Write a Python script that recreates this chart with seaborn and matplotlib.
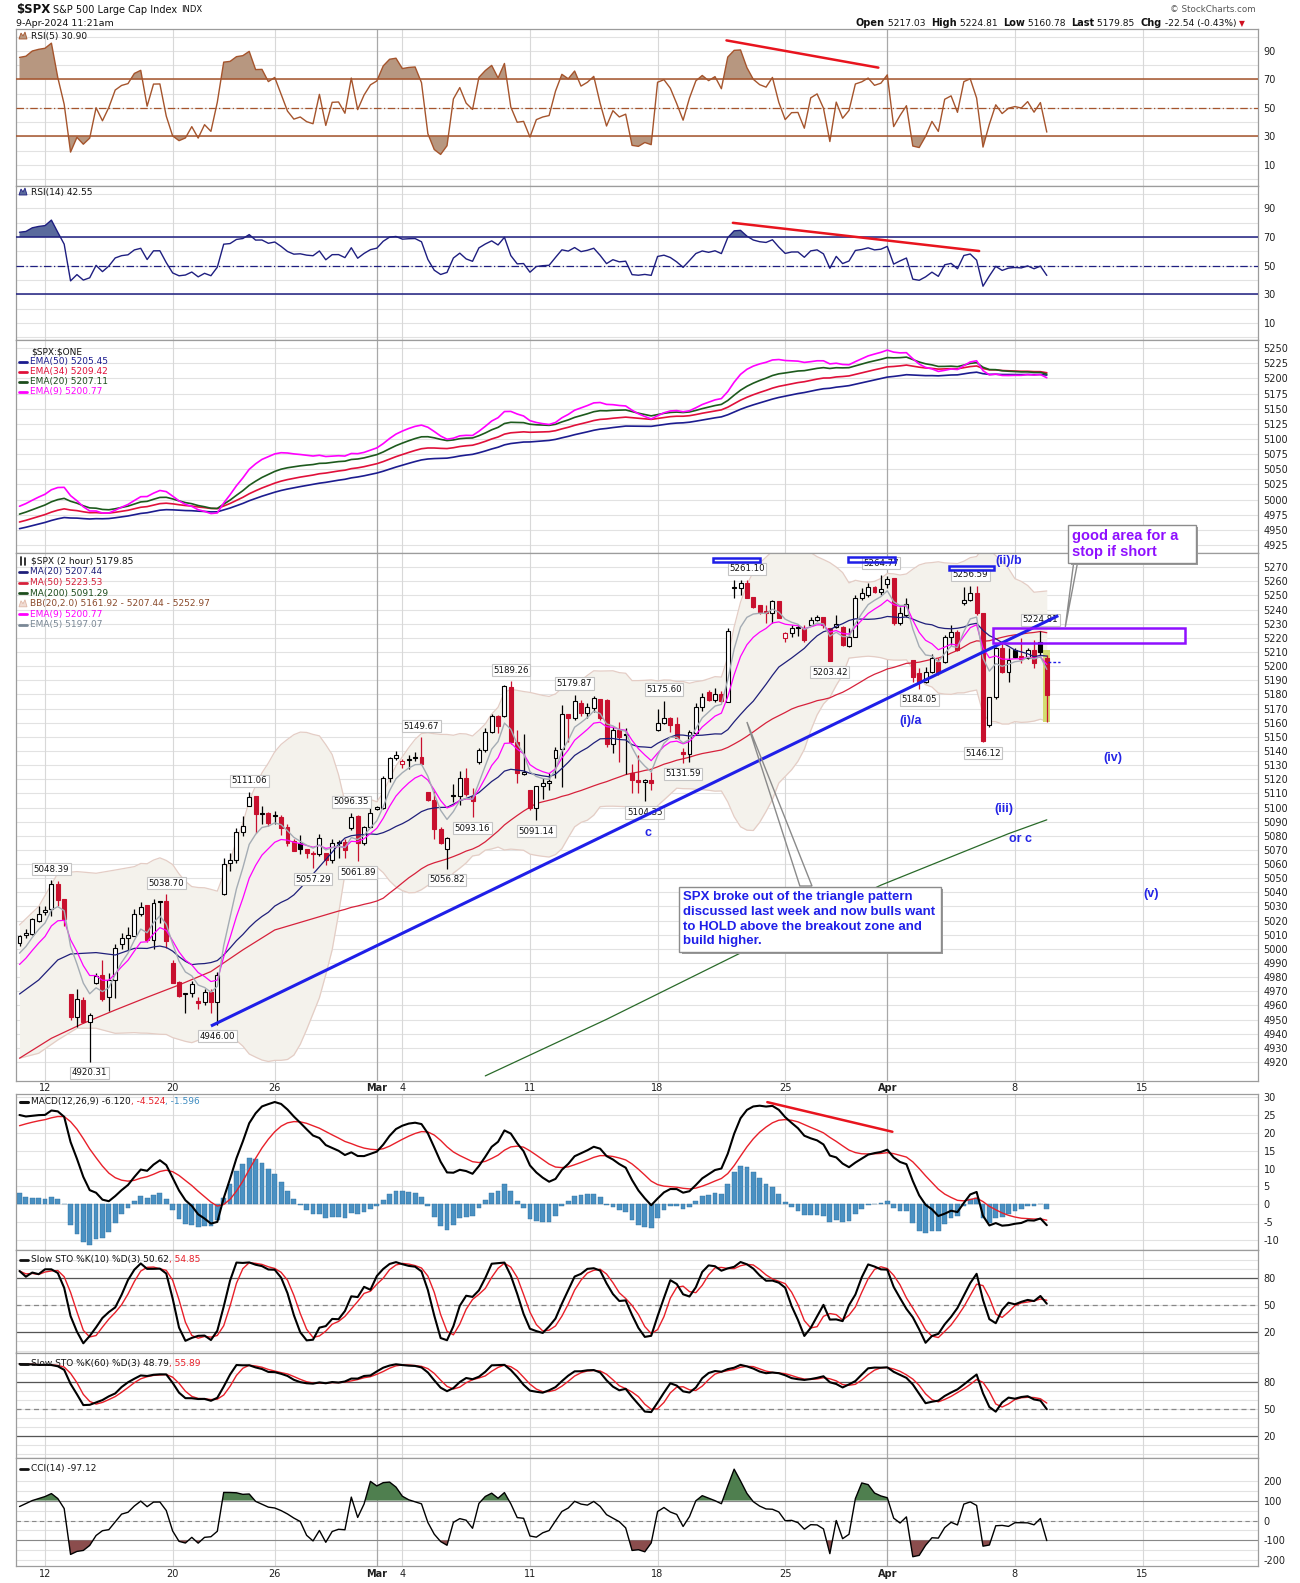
import matplotlib
matplotlib.use("Agg")
import matplotlib.pyplot as plt
from matplotlib.lines import Line2D
from matplotlib.patches import Polygon, Rectangle
import numpy as np
import pandas as pd
import seaborn as sns

W, H = 1300, 1583
PLOT_LEFT, PLOT_RIGHT = 16, 1258

# $SPX 2-hour bars, 9-Feb-2024 .. 9-Apr-2024 11:21am
OPEN = [
    5004, 5010, 5010.5, 5020, 5026, 5028, 5046, 5035,
    4968, 4951.6, 4963.9, 4948.6, 4976, 4981.5, 4965.8, 4978,
    5003.5, 5007.5, 5009, 5024.7, 5031, 5006.3, 5033.2, 5034,
    4989.7, 4976.9, 4968, 4968.6, 4963, 4962.7, 4969.8, 4962.7,
    5038.9, 5060.5, 5063, 5082.5, 5101, 5108, 5096.3, 5096,
    5094.2, 5093.5, 5086, 5076, 5074.6, 5070.5, 5068, 5067,
    5067.6, 5062.8, 5075.2, 5075.8, 5085.2, 5094, 5074.6, 5086.4,
    5099, 5100, 5121, 5134.7, 5130.6, 5133.5, 5136, 5135.4,
    5110.7, 5105.3, 5085, 5071, 5108.8, 5108, 5120.6, 5108,
    5132.4, 5140.6, 5153.6, 5164.7, 5164.7, 5185.4, 5146.5, 5123.5,
    5112.3, 5099.4, 5115.2, 5117.3, 5134.7, 5141.3, 5165.9, 5163,
    5173.6, 5166.6, 5170.6, 5176.7, 5176, 5144.6, 5154.8, 5152,
    5124.1, 5119.4, 5117.8, 5119.4, 5154.8, 5159.5, 5163, 5158.8,
    5139.5, 5137.6, 5152.4, 5171.3, 5181.9, 5176, 5180, 5174.8,
    5254.9, 5255, 5258.5, 5249, 5243.2, 5238.9, 5237.3, 5246,
    5220.1, 5223.1, 5227, 5226.7, 5229, 5232.6, 5235, 5226.7,
    5228, 5228, 5214.4, 5220.8, 5247.9, 5250.2, 5256.1, 5252.6,
    5258, 5262, 5230.2, 5236.1, 5204.3, 5194.8, 5189, 5196,
    5203.1, 5203.1, 5220.8, 5224.3, 5244.3, 5246.7, 5251.4, 5237.3,
    5158.3, 5178.3, 5212.5, 5196, 5211.3, 5207, 5205.5, 5211.3,
    5217.03, 5205.5,
]
HIGH = [
    5010, 5014, 5022, 5030, 5030, 5048.39, 5048, 5035,
    4968, 4971.5, 4965.8, 4954.5, 4983, 4992, 4983.3, 5003.5,
    5011, 5015.8, 5028, 5033.5, 5031, 5035, 5034, 5038.70,
    4992.5, 4977, 4969, 4977.5, 4966, 4972, 4972, 4984,
    5064, 5067.6, 5085.3, 5094, 5111.06, 5108, 5101, 5096.5,
    5097.7, 5094.7, 5088, 5078, 5080.7, 5071, 5069, 5081,
    5068, 5078, 5077, 5078, 5096.35, 5094.7, 5087, 5105,
    5101, 5122, 5136, 5140.3, 5134, 5137, 5139, 5149.67,
    5111, 5112, 5086, 5079, 5116.6, 5126, 5128, 5113.5,
    5141.8, 5156, 5166, 5165.6, 5186.6, 5189.26, 5155, 5152,
    5112.5, 5115.5, 5120.6, 5124.7, 5143, 5172.4, 5166, 5179.87,
    5176, 5173.6, 5179, 5177, 5177, 5157, 5160.7, 5156.4,
    5131, 5137, 5120, 5125.3, 5170, 5175.60, 5164, 5164,
    5141.8, 5154.8, 5173.6, 5180.7, 5183, 5184.7, 5182.4, 5226.7,
    5260.8, 5260.8, 5261.10, 5249, 5243.2, 5243, 5246.7, 5246,
    5223.8, 5229, 5229, 5229, 5234.9, 5236, 5235, 5226.7,
    5236.1, 5228.5, 5226.7, 5250.2, 5255.4, 5258.5, 5256.8, 5264.77,
    5263.5, 5262, 5242, 5248.4, 5204.3, 5198.4, 5199.6, 5208.3,
    5206, 5222, 5229, 5225.5, 5256, 5256.59, 5256.5, 5237.3,
    5178.3, 5213.7, 5216, 5212.5, 5212.5, 5219.6, 5212.5, 5218.4,
    5224.81, 5207.8,
]
LOW = [
    5002, 5008, 5010, 5019, 5024, 5023, 5030, 5016,
    4950, 4945, 4947.4, 4920.31, 4975, 4963.5, 4956.4, 4965,
    5000, 4999, 5009, 5023, 5005, 4999.7, 5018, 5000.5,
    4976, 4966, 4955, 4966.3, 4957.3, 4960.4, 4954.5, 4946.00,
    5038.2, 5055.4, 5061, 5080, 5101, 5081.8, 5088, 5087,
    5088, 5080.5, 5073, 5068.9, 5067, 5064, 5057.29, 5066,
    5059, 5061, 5064, 5064, 5084, 5061.89, 5073.5, 5085.5,
    5098, 5099, 5118, 5133.5, 5127.7, 5127.5, 5133, 5130.5,
    5104.8, 5078, 5074, 5056.82, 5104, 5102, 5108, 5093.16,
    5131, 5139.5, 5153, 5152.4, 5164, 5145, 5117.5, 5123,
    5098, 5091.14, 5106, 5112.3, 5120.6, 5114.7, 5146.5, 5161.8,
    5165, 5163, 5167.7, 5162, 5143, 5138.3, 5132.4, 5123.4,
    5110, 5110, 5104.35, 5112.4, 5154, 5159, 5153.6, 5148.9,
    5131.59, 5132.4, 5151.2, 5168, 5175, 5174.3, 5174.8, 5174.8,
    5247.9, 5250.2, 5247.9, 5240.8, 5236.6, 5230.2, 5230.2, 5233.7,
    5216.8, 5220.8, 5221, 5216.8, 5228.5, 5231.8, 5226.7, 5203.42,
    5226.7, 5214.4, 5213.7, 5220.8, 5246.7, 5249, 5251.4, 5250.2,
    5255, 5229, 5229, 5235, 5189, 5184.05, 5187.8, 5194.8,
    5193.4, 5202, 5215, 5211, 5243.5, 5246, 5236, 5146.12,
    5157.2, 5177, 5195, 5189, 5206, 5202, 5205, 5198.4,
    5207, 5160.78,
]
CLOSE = [
    5009, 5011, 5021, 5025, 5027.5, 5046, 5034.5, 5021.5,
    4951.6, 4964.4, 4948.6, 4953.2, 4981, 4964.4, 4978.1, 5000.6,
    5007.5, 5010, 5024.7, 5029.7, 5006.3, 5032.7, 5032.9, 5005.6,
    4976, 4966.7, 4968.5, 4975.5, 4961.5, 4969.3, 4962.7, 4981.8,
    5059.8, 5062.8, 5082.5, 5087, 5107.2, 5095.2, 5095.6, 5088.8,
    5093.8, 5085.2, 5075, 5069.5, 5070.5, 5068, 5067, 5078.2,
    5062.8, 5074.6, 5074.8, 5069.8, 5093, 5074.6, 5086.4, 5096.3,
    5100.3, 5120.6, 5134.7, 5137.1, 5133.2, 5134.5, 5135, 5131,
    5105.3, 5084.5, 5075, 5078.65, 5108.3, 5120.6, 5109.5, 5104.8,
    5140.6, 5153.6, 5164.7, 5157.4, 5185.9, 5146.5, 5124.1, 5125,
    5099.4, 5115.2, 5117.6, 5118.7, 5140.6, 5165.9, 5163, 5175.3,
    5166.6, 5170.8, 5177.2, 5163, 5144.6, 5154.8, 5150, 5151.5,
    5119.4, 5117.8, 5119.4, 5117.1, 5159.5, 5163, 5158.3, 5149.4,
    5137.6, 5153.1, 5171.3, 5178.5, 5176, 5180, 5175.3, 5224.6,
    5256, 5258.5, 5248.4, 5241.5, 5238.5, 5237.3, 5246, 5234.2,
    5223.1, 5226.7, 5226.8, 5218.2, 5232.6, 5235, 5229, 5203.6,
    5229.6, 5214.9, 5220.8, 5248.5, 5251.4, 5256.1, 5252.6, 5254.4,
    5261.5, 5230.2, 5237.3, 5243.8, 5192.5, 5189, 5196, 5205.8,
    5194.8, 5220.8, 5224.3, 5211.5, 5246.7, 5251.4, 5237.3, 5147.2,
    5178.3, 5212.5, 5196, 5204.3, 5206.6, 5205, 5211.3, 5202.4,
    5210, 5179.85,
]

# overlay values at the left edge, where the chart's look-back lies before the first bar
MA20_LEAD_IDX = [0, 3, 6, 8, 12, 15, 18]
MA20_LEAD = [4968.1, 4978.0, 4992.2, 4996.4, 4997.4, 4995.7, 5000.4]
BB_LEAD_IDX = [0, 3, 6, 9, 12, 15, 18]
BB_UP_LEAD = [5017.0, 5030.0, 5053.5, 5054.7, 5053.5, 5055.8, 5058.2]
BB_LO_LEAD = [4922.7, 4926.2, 4935.6, 4943.9, 4943.9, 4940.3, 4940.8]
MA50_LEAD_IDX = [0, 5, 10, 15, 20, 25, 30, 35, 40]
MA50_LEAD = [4922.7, 4936.8, 4947.4, 4956.8, 4965.8, 4974.5, 4984.0, 4999.3, 5013.4]
MA200_IDX = [73, 92, 115, 135, 155, 161]
MA200_VAL = [4910.2, 4950.2, 5001.6, 5045.1, 5081.5, 5091.3]
CCI_LEAD = [70, 85, 100, 110, 120, 135, 110, 60, -170, -155, -150, -125, -75]

# starting values of the smoothed indicators at the first bar
EMA_SEED = {5: 4997.0, 9: 4989.0, 20: 4976.0, 34: 4963.0, 50: 4952.0}
MACD_SEED = (4993.0, 4968.0, 22.0)
RSI5_SEED = (7.0, 1.2)
RSI14_SEED = (5.5, 2.0)
STO60_PRIOR_LOW, STO60_PRIOR_LAST = 4845.0, 35

DATE_TICKS = [4, 24, 40, 56, 60, 80, 100, 120, 136, 156, 176]
DATE_LABELS = ["12", "20", "26", "Mar", "4", "11", "18", "25", "Apr", "8", "15"]
WEEK_LINES = [4, 24, 40, 60, 80, 100, 120, 156, 176]
MONTH_LINES = [56, 136]
XLIM = (-0.55, 194.1)

RED = "#c8102e"
BLUE = "#1f1fe8"
PURPLE = "#8f10ff"
NOTE_FONT = ["Liberation Sans", "DejaVu Sans"]


def fx(x):
    return x / W


def fy(y):
    return 1 - y / H


def make_axes(top, bottom):
    return fig.add_axes([fx(PLOT_LEFT), fy(bottom), (PLOT_RIGHT - PLOT_LEFT) / W, (bottom - top) / H])


def style_panel(ax, ylim, ticks, grid):
    ax.set_xlim(*XLIM)
    ax.set_ylim(*ylim)
    ax.set_facecolor("white")
    for sp in ax.spines.values():
        sp.set_color("#9c9c9c")
        sp.set_linewidth(0.9)
    for g in grid:
        ax.axhline(g, color="#e2e2e2", lw=0.8, zorder=0)
    for v in WEEK_LINES:
        ax.axvline(v, color="#d8d8d8", lw=0.8, zorder=0)
    for v in MONTH_LINES:
        ax.axvline(v, color="#a8a8a8", lw=0.9, zorder=0)
    ax.yaxis.tick_right()
    ax.set_yticks(ticks)
    ax.set_yticklabels([str(t) for t in ticks])
    ax.tick_params(axis="y", length=0, pad=4, labelsize=7, labelcolor="#202020")
    ax.set_xticks([])
    ax.set_xlabel("")
    ax.set_ylabel("")


def date_axis(ax):
    ax.set_xticks(DATE_TICKS)
    ax.set_xticklabels(DATE_LABELS)
    ax.tick_params(axis="x", length=0, pad=2, labelsize=7, labelcolor="#202020")
    for t in ax.get_xticklabels():
        if t.get_text() in ("Mar", "Apr"):
            t.set_fontweight("bold")


def line(ax, xs, ys, color, lw=1.0, z=5, **kw):
    sns.lineplot(x=list(xs), y=list(ys), ax=ax, color=color, linewidth=lw, sort=False,
                 estimator=None, errorbar=None, legend=False, zorder=z, **kw)


def ftext(x, y, s, **kw):
    kw.setdefault("va", "center")
    kw.setdefault("ha", "left")
    kw.setdefault("fontsize", 6.5)
    return fig.text(fx(x), fy(y), s, **kw)


def chain(ax, x, y, parts, size=6.5):
    t = ftext(x, y, parts[0][0], color=parts[0][1], fontsize=size,
              fontweight=parts[0][2] if len(parts[0]) > 2 else "normal")
    for p in parts[1:]:
        t = ax.annotate(p[0], xy=(1, 0), xycoords=t, va="bottom", ha="left", color=p[1],
                        fontsize=p[3] if len(p) > 3 else size,
                        fontweight=p[2] if len(p) > 2 else "normal")
    return t


def fline(x0, x1, y, color, lw=2.0):
    fig.add_artist(Line2D([fx(x0), fx(x1)], [fy(y), fy(y)], color=color, lw=lw))


def fmountain(x, y, face, edge):
    pts = [(x, y + 3), (x + 2, y - 3), (x + 4, y), (x + 6, y - 4), (x + 8, y + 3)]
    fig.add_artist(Polygon([(fx(a), fy(b)) for a, b in pts], closed=True, fc=face, ec=edge,
                           lw=0.6, transform=fig.transFigure))


def ema(series, n, seed):
    s = series.copy()
    s.iloc[0] = seed
    return s.ewm(span=n, adjust=False).mean()


def rsi(close, n, seed):
    d = close.diff()
    gain = d.clip(lower=0)
    loss = (-d).clip(lower=0)
    gain.iloc[0], loss.iloc[0] = seed
    ag = gain.ewm(alpha=1 / n, adjust=False).mean()
    al = loss.ewm(alpha=1 / n, adjust=False).mean()
    return 100 * ag / (ag + al)


def slow_sto(h, l, c, n, prior_low=None, prior_last=-1):
    hh = h.rolling(n, min_periods=1).max()
    ll = l.rolling(n, min_periods=1).min()
    if prior_low is not None:
        ll = ll.where(ll.index > prior_last, np.minimum(ll, prior_low))
    fast = 100 * (c - ll) / (hh - ll)
    k = fast.rolling(3, min_periods=1).mean()
    return k, k.rolling(3, min_periods=1).mean()


sns.set_theme(style="white")
plt.rcParams["font.family"] = ["DejaVu Sans"]

o = pd.Series(OPEN, dtype=float)
h = pd.Series(HIGH, dtype=float)
l = pd.Series(LOW, dtype=float)
c = pd.Series(CLOSE, dtype=float)
n = len(c)
x = np.arange(n)

fig = plt.figure(figsize=(W / 100, H / 100), dpi=100)
fig.patch.set_facecolor("white")

ax_rsi5 = make_axes(29, 185.5)
ax_rsi14 = make_axes(185.5, 340)
ax_ema = make_axes(340, 553)
ax_main = make_axes(553, 1080.7)
ax_macd = make_axes(1094.3, 1249.5)
ax_sto10 = make_axes(1249.5, 1352.5)
ax_sto60 = make_axes(1352.5, 1457.5)
ax_cci = make_axes(1457.5, 1566.4)

# ---- RSI panels
for ax, per, seed, col, fillc, ylim in [
    (ax_rsi5, 5, RSI5_SEED, "#a5542c", "#b79780", (-4.5, 105.3)),
    (ax_rsi14, 14, RSI14_SEED, "#1e1e80", "#5a6a9c", (-2.0, 106.0)),
]:
    r = rsi(c, per, seed)
    ax.fill_between(x, r, 70, where=r >= 70, interpolate=True, color=fillc, lw=0, zorder=2)
    ax.fill_between(x, r, 30, where=r <= 30, interpolate=True, color=fillc, lw=0, zorder=2)
    ax.axhline(70, color=col, lw=1.1, zorder=3)
    ax.axhline(30, color=col, lw=1.1, zorder=3)
    ax.axhline(50, color=col, lw=0.9, ls=(0, (6, 2, 1, 2)), zorder=3)
    line(ax, x, r, col, lw=1.0, z=4)
    style_panel(ax, ylim, [10, 30, 50, 70, 90], range(0, 101, 10))

ax_rsi5.plot([110.8, 134.6], [97.3, 78.2], color="#e8141e", lw=1.8, zorder=6)
ax_rsi14.plot([111.8, 150.4], [79.9, 60.2], color="#e8141e", lw=1.8, zorder=6)

# ---- EMA panel ($SPX:$ONE)
for per, col in [(50, "#1c1c8f"), (34, "#e0103a"), (20, "#1d5a1d"), (9, "#ff00ff")]:
    line(ax_ema, x, ema(c, per, EMA_SEED[per]), col, lw=1.2, z=4)
style_panel(ax_ema, (4911.8, 5263.5), list(range(4925, 5251, 25)), range(4925, 5251, 25))

# ---- main price panel
mid = c.rolling(20).mean()
sd = c.rolling(20).std(ddof=0)
bb_x = BB_LEAD_IDX + list(range(19, n))
bb_up = BB_UP_LEAD + list((mid + 2 * sd)[19:])
bb_lo = BB_LO_LEAD + list((mid - 2 * sd)[19:])
ax_main.fill_between(bb_x, bb_lo, bb_up, color="#f4f2ec", lw=0, zorder=1)
line(ax_main, bb_x, bb_up, "#e4cdc5", lw=0.9, z=1.5)
line(ax_main, bb_x, bb_lo, "#e4cdc5", lw=0.9, z=1.5)

ma50 = c.rolling(50).mean()
line(ax_main, MA200_IDX, MA200_VAL, "#2a6a2a", lw=0.9, z=2)
line(ax_main, MA50_LEAD_IDX + list(range(49, n)), MA50_LEAD + list(ma50[49:]), "#d6213b", lw=0.9, z=2)

# chartist's drawings that sit behind the bars
ax_main.add_patch(Rectangle((160.45, 5160.7), 1.1, 50.7, fc="#d3dc70", ec="none", zorder=2.5))

prev = c.shift(1).fillna(c.iloc[0])
edge = np.where(c >= prev, "black", RED)
face = np.where(c > o, "white", edge)
ax_main.vlines(x, l, h, colors=edge, lw=0.9, zorder=3)
ax_main.bar(x, np.maximum((c - o).abs(), 0.7), bottom=np.minimum(o, c), width=0.62,
            color=face, edgecolor=edge, linewidth=0.8, zorder=4)

line(ax_main, MA20_LEAD_IDX + list(range(19, n)), MA20_LEAD + list(mid[19:]), "#1f1f7a", lw=0.9, z=5)
line(ax_main, x, ema(c, 9, EMA_SEED[9]), "#ff00ff", lw=0.9, z=5)
line(ax_main, x, ema(c, 5, EMA_SEED[5]), "#a4acb4", lw=1.0, z=5)

# high / low value flags
HIGH_FLAGS = [5, 23, 36, 52, 63, 77, 87, 101, 114, 135, 149, 160]
LOW_FLAGS = [11, 31, 46, 53, 67, 71, 81, 98, 104, 127, 141, 151]
for idx, arr, dy in [(HIGH_FLAGS, HIGH, 8), (LOW_FLAGS, LOW, -8)]:
    for i in idx:
        ax_main.annotate(f"{arr[i]:.2f}", xy=(i, arr[i]), xytext=(0, dy), textcoords="offset points",
                         ha="center", va="center", fontsize=6.2, color="#111", zorder=6,
                         bbox=dict(boxstyle="square,pad=0.18", fc="white", ec="#c4c4c4", lw=0.8))

TREND_X, TREND_Y = [30.0, 162.8], [4945.5, 5235.7]
ax_main.plot(TREND_X, TREND_Y, color=BLUE, lw=2.2, zorder=7, solid_capstyle="butt")
for (x0, x1, y0, y1) in [(108.7, 116.0, 5273.8, 5276.7), (129.8, 137.2, 5273.3, 5276.9),
                         (145.6, 152.8, 5267.7, 5271.0)]:
    ax_main.add_patch(Rectangle((x0, y0), x1 - x0, y1 - y0, fc="none", ec=BLUE, lw=1.8, zorder=8))
ax_main.add_patch(Rectangle((152.6, 5216.0), 30.1, 10.8, fc="none", ec=PURPLE, lw=1.8, zorder=8,
                            clip_on=False))
ax_main.plot([161.2, 163.1], [5203.2, 5203.2], color=BLUE, lw=1.0, ls=(0, (2, 1.5)), zorder=8)

WAVE_LABELS = [("(ii)/b", 155.1, 5274.4), ("(i)/a", 139.7, 5161.5), ("c", 98.5, 5082.2),
               ("(iii)", 154.3, 5098.6), ("or c", 156.8, 5078.0), ("(iv)", 171.4, 5135.0),
               ("(v)", 177.3, 5038.9)]
for s, xi, yp in WAVE_LABELS:
    ax_main.text(xi, yp, s, color="#2424e6", fontsize=9, fontweight="bold", ha="center", va="center",
                 family=NOTE_FONT, zorder=9)

# callout 1
ax_main.add_patch(Polygon([(114.0, 5160.5), (122.3, 5044.5), (124.2, 5044.5)], closed=True,
                          fc="none", ec="#8a8a8a", lw=1.0, zorder=8))
ax_main.add_patch(Rectangle((103.75, 4996.4), 41.0, 46.1, fc="#9a9a9a", ec="none", zorder=8.5))
ax_main.add_patch(Rectangle((103.4, 4997.9), 41.0, 46.1, fc="white", ec="#8c8c8c", lw=1.0, zorder=9))
ax_main.text(103.95, 5040.8,
             "SPX broke out of the triangle pattern\ndiscussed last week and now bulls want\n"
             "to HOLD above the breakout zone and\nbuild higher.",
             color=BLUE, fontsize=9.5, fontweight="bold", ha="left", va="top", linespacing=1.3,
             family=NOTE_FONT, zorder=10)

# callout 2 (reaches up into the panel above)
ax_main.add_patch(Polygon([(163.9, 5227.7), (165.2, 5272.7), (165.8, 5272.7)], closed=True,
                          fc="none", ec="#8a8a8a", lw=1.0, zorder=8, clip_on=False))
ax_main.add_patch(Rectangle((164.75, 5271.2), 20.0, 27.1, fc="#9a9a9a", ec="none", zorder=8.5,
                            clip_on=False))
ax_main.add_patch(Rectangle((164.4, 5272.7), 20.0, 27.1, fc="white", ec="#8c8c8c", lw=1.0, zorder=9,
                            clip_on=False))
ax_main.text(164.95, 5296.8, "good area for a\nstop if short", color=PURPLE, fontsize=10.5,
             fontweight="bold", ha="left", va="top", linespacing=1.12,
             family=NOTE_FONT, zorder=10, clip_on=False)

style_panel(ax_main, (4906.8, 5280), list(range(4920, 5271, 10)), range(4920, 5271, 10))
date_axis(ax_main)

# ---- MACD
e12 = ema(c, 12, MACD_SEED[0])
e26 = ema(c, 26, MACD_SEED[1])
macd = e12 - e26
sig = ema(macd, 9, MACD_SEED[2])
hist = macd - sig
ax_macd.bar(x, hist, width=0.75, color="#4a90c2", edgecolor="#2d6f9f", linewidth=0.3, zorder=2)
line(ax_macd, x, sig, "#e8202a", lw=1.0, z=3)
line(ax_macd, x, macd, "black", lw=1.5, z=4)
ax_macd.plot([117.2, 136.8], [28.6, 20.3], color="#e8141e", lw=1.8, zorder=6)
style_panel(ax_macd, (-12.7, 30.8), list(range(-10, 31, 5)), range(-10, 31, 5))

# ---- slow stochastics
for ax, per, ylim, prior in [(ax_sto10, 10, (-2.2, 111.2), (None, -1)),
                             (ax_sto60, 60, (-3.9, 112.1), (STO60_PRIOR_LOW, STO60_PRIOR_LAST))]:
    k, d = slow_sto(h, l, c, per, *prior)
    ax.axhline(80, color="#555", lw=0.9, zorder=1)
    ax.axhline(20, color="#555", lw=0.9, zorder=1)
    ax.axhline(50, color="#888", lw=0.9, ls=(0, (4, 3)), zorder=1)
    line(ax, x, d, "#e8202a", lw=1.0, z=3)
    line(ax, x, k, "black", lw=1.5, z=4)
    style_panel(ax, ylim, [20, 50, 80], range(0, 101, 10))

# ---- CCI
tp = (h + l + c) / 3
tp_ma = tp.rolling(14).mean()
tp_md = tp.rolling(14).apply(lambda w: np.mean(np.abs(w - w.mean())), raw=True)
cci = ((tp - tp_ma) / (0.015 * tp_md)).to_numpy()
cci[:len(CCI_LEAD)] = CCI_LEAD
ax_cci.fill_between(x, cci, 100, where=cci >= 100, interpolate=True, color="#4f7f4f", lw=0, zorder=2)
ax_cci.fill_between(x, cci, -100, where=cci <= -100, interpolate=True, color="#8b4d4d", lw=0, zorder=2)
ax_cci.axhline(100, color="#888", lw=0.8, zorder=1)
ax_cci.axhline(-100, color="#888", lw=0.8, zorder=1)
ax_cci.axhline(0, color="#888", lw=0.8, ls=(0, (4, 3)), zorder=1)
line(ax_cci, x, cci, "black", lw=1.0, z=4)
style_panel(ax_cci, (-230, 315.8), [-200, -100, 0, 100, 200], range(-200, 201, 50))
date_axis(ax_cci)

# ---- header
ftext(16, 9.5, "\\$SPX", fontsize=8.5, fontweight="bold", color="#111")
ftext(53, 10, "S&P 500 Large Cap Index", fontsize=7, color="#111")
ftext(181, 10, "INDX", fontsize=6, color="#111")
ftext(16, 23, "9-Apr-2024 11:21am", fontsize=6.8, color="#111")
ftext(1256, 9.3, "\u00a9 StockCharts.com", fontsize=6.3, color="#555", ha="right")
chain(ax_main, 856, 23.3, [("Open", "#111", "bold", 7), (" 5217.03  ", "#111", "normal", 6.6),
                           ("High", "#111", "bold", 7), (" 5224.81  ", "#111", "normal", 6.6),
                           ("Low", "#111", "bold", 7), (" 5160.78  ", "#111", "normal", 6.6),
                           ("Last", "#111", "bold", 7), (" 5179.85  ", "#111", "normal", 6.6),
                           ("Chg", "#111", "bold", 7), (" -22.54 (-0.43%) ", "#111", "normal", 6.6),
                           ("\u25bc", "#d01020", "normal", 5.5)], size=7)

# ---- panel legends
fmountain(19, 36, "#b79780", "#a5542c")
ftext(31, 36, "RSI(5) 30.90", color="#111")
fmountain(19, 192, "#5a6a9c", "#1e1e80")
ftext(31, 192, "RSI(14) 42.55", color="#111")

ftext(31, 352.3, "\\$SPX:\\$ONE", color="#111")
for k, (s, col) in enumerate([("EMA(50) 5205.45", "#1c1c8f"), ("EMA(34) 5209.42", "#e0103a"),
                              ("EMA(20) 5207.11", "#1d4d1d"), ("EMA(9) 5200.77", "#ff00ff")]):
    yy = 361.7 + 10 * k
    fline(19, 27, yy, col)
    ftext(30, yy, s, color=col)

fig.add_artist(Line2D([fx(21), fx(21)], [fy(557), fy(565)], color="#111", lw=1.2))
fig.add_artist(Line2D([fx(25), fx(25)], [fy(558), fy(565)], color="#111", lw=1.2))
ftext(31, 561.3, "\\$SPX (2 hour) 5179.85", color="#111")
main_leg = [("MA(20) 5207.44", "#1f1f7a"), ("MA(50) 5223.53", "#d6213b"),
            ("MA(200) 5091.29", "#1d4d1d"),
            ("BB(20,2.0) 5161.92 - 5207.44 - 5252.97", "#8b4a2b"),
            ("EMA(9) 5200.77", "#ff00ff"), ("EMA(5) 5197.07", "#7a8896")]
for k, (s, col) in enumerate(main_leg):
    yy = 572 + 10.6 * k
    if s.startswith("BB"):
        fmountain(19, yy, "#f0dcd4", "#e0b8a8")
    else:
        fline(19, 27, yy, col)
    ftext(30, yy, s, color=col)

fline(20, 28, 1101.7, "#111", lw=2.2)
chain(ax_macd, 31, 1101.7, [("MACD(12,26,9) -6.120", "#111"), (", -4.524", "#e8202a"),
                            (", -1.596", "#3d8bc0")])
chain(ax_sto10, 31, 1259.6, [("Slow STO %K(10) %D(3) 50.62", "#111"), (", 54.85", "#e8202a")])
chain(ax_sto60, 31, 1363.6, [("Slow STO %K(60) %D(3) 48.79", "#111"), (", 55.89", "#e8202a")])
ftext(31, 1468.5, "CCI(14) -97.12", color="#111")
fline(20, 28, 1259.6, "#111", lw=2.0)
fline(20, 28, 1363.6, "#111", lw=2.0)
fline(20, 28, 1468.5, "#111", lw=2.0)

fig.savefig("out.png", dpi=100, facecolor="white")
